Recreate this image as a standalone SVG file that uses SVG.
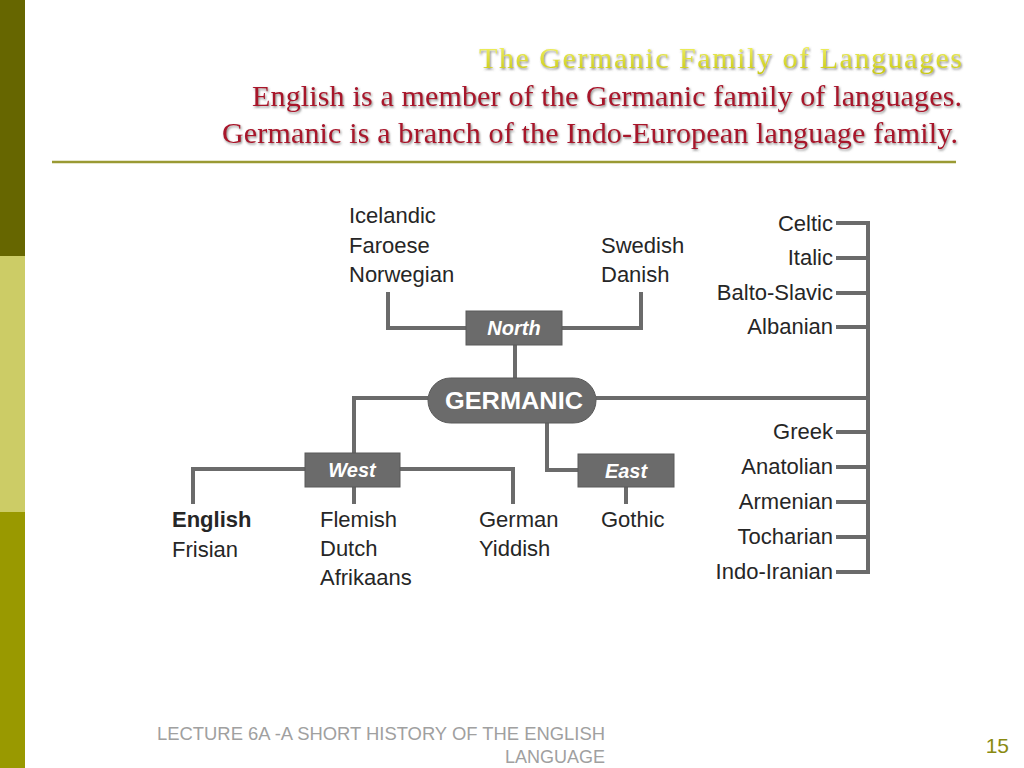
<svg xmlns="http://www.w3.org/2000/svg" width="1024" height="768" viewBox="0 0 1024 768">
<defs>
<style>
.lbl{font-family:"Liberation Sans",Arial,sans-serif;font-size:22px;fill:#262626}
.rt{text-anchor:end}
.box{fill:#6b6b6b;stroke:#5a5a5a;stroke-width:1}
.bt{font-family:"Liberation Sans",Arial,sans-serif;font-size:20px;font-weight:bold;font-style:italic;fill:#fff;text-anchor:middle}
.ln{fill:none;stroke:#6b6b6b;stroke-width:4;stroke-linejoin:miter}
.ser{font-family:"Liberation Serif","Times New Roman",serif;font-size:30px;text-anchor:end}
.red{fill:#a8122a}
.foot{font-family:"Liberation Sans",Arial,sans-serif;font-size:18px;fill:#a0a0a0;text-anchor:end}
</style>
<filter id="sh" x="-5%" y="-20%" width="110%" height="150%">
<feDropShadow dx="1" dy="1.5" stdDeviation="0.8" flood-color="#555" flood-opacity="0.7"/>
</filter>
<linearGradient id="yg" x1="0" y1="0" x2="0" y2="1">
<stop offset="0" stop-color="#f6f670"/>
<stop offset="1" stop-color="#c8c810"/>
</linearGradient>
</defs>
<rect width="1024" height="768" fill="#fff"/>
<g id="sidebar">
<rect x="0" y="0" width="25" height="256" fill="#666600"/>
<rect x="0" y="256" width="25" height="256" fill="#cccc66"/>
<rect x="0" y="512" width="25" height="256" fill="#999900"/>
</g>
<g id="title">
<text class="ser" x="962" y="68" fill="url(#yg)" filter="url(#sh)" textLength="483" lengthAdjust="spacing">The Germanic Family of Languages</text>
<text class="ser red" x="962" y="106" filter="url(#sh)" textLength="710" lengthAdjust="spacing">English is a member of the Germanic family of languages.</text>
<text class="ser red" x="958" y="143" filter="url(#sh)" textLength="736" lengthAdjust="spacing">Germanic is a branch of the Indo-European language family.</text>
<line x1="52" y1="162" x2="956" y2="162" stroke="#9a9a33" stroke-width="2.5"/>
</g>
<g id="connectors">
<polyline class="ln" points="388,292 388,328 466,328"/>
<polyline class="ln" points="562,328 641,328 641,292"/>
<line class="ln" x1="515" y1="345" x2="515" y2="378"/>
<polyline class="ln" points="428,398 354,398 354,453"/>
<line class="ln" x1="596" y1="398" x2="868" y2="398"/>
<polyline class="ln" points="547,423 547,470 578,470"/>
<polyline class="ln" points="305,469 193,469 193,504"/>
<polyline class="ln" points="400,469 513,469 513,504"/>
<line class="ln" x1="354" y1="487" x2="354" y2="504"/>
<line class="ln" x1="626" y1="487" x2="626" y2="504"/>
<line class="ln" x1="868" y1="221" x2="868" y2="574"/>
<line class="ln" x1="836" y1="223" x2="868" y2="223"/>
<line class="ln" x1="836" y1="258" x2="868" y2="258"/>
<line class="ln" x1="836" y1="293" x2="868" y2="293"/>
<line class="ln" x1="836" y1="327" x2="868" y2="327"/>
<line class="ln" x1="836" y1="432" x2="868" y2="432"/>
<line class="ln" x1="836" y1="467" x2="868" y2="467"/>
<line class="ln" x1="836" y1="502" x2="868" y2="502"/>
<line class="ln" x1="836" y1="537" x2="868" y2="537"/>
<line class="ln" x1="836" y1="572" x2="868" y2="572"/>
</g>
<g id="germanic">
<rect class="box" x="428" y="378" width="168" height="45" rx="22.5"/>
<text x="514" y="409" font-family="'Liberation Sans',Arial,sans-serif" font-size="24" font-weight="bold" fill="#fff" text-anchor="middle" textLength="138" lengthAdjust="spacingAndGlyphs">GERMANIC</text>
</g>
<g id="north">
<rect class="box" x="466" y="311" width="96" height="34"/>
<text class="bt" x="514" y="335">North</text>
</g>
<g id="west">
<rect class="box" x="305" y="453" width="95" height="34"/>
<text class="bt" x="352" y="477">West</text>
</g>
<g id="east">
<rect class="box" x="578" y="454" width="96" height="33"/>
<text class="bt" x="626" y="478">East</text>
</g>
<g id="north-west-langs">
<text class="lbl" x="349" y="223">Icelandic</text>
<text class="lbl" x="349" y="253">Faroese</text>
<text class="lbl" x="349" y="282">Norwegian</text>
</g>
<g id="north-east-langs">
<text class="lbl" x="601" y="253">Swedish</text>
<text class="lbl" x="601" y="282">Danish</text>
</g>
<g id="anglo-frisian">
<text class="lbl" x="172" y="527" font-weight="bold">English</text>
<text class="lbl" x="172" y="557">Frisian</text>
</g>
<g id="low-franconian">
<text class="lbl" x="320" y="527">Flemish</text>
<text class="lbl" x="320" y="556">Dutch</text>
<text class="lbl" x="320" y="585">Afrikaans</text>
</g>
<g id="high-german">
<text class="lbl" x="479" y="527">German</text>
<text class="lbl" x="479" y="556">Yiddish</text>
</g>
<g id="gothic">
<text class="lbl" x="601" y="527">Gothic</text>
</g>
<g id="indo-european">
<text class="lbl rt" x="833" y="231">Celtic</text>
<text class="lbl rt" x="833" y="265">Italic</text>
<text class="lbl rt" x="833" y="300">Balto-Slavic</text>
<text class="lbl rt" x="833" y="334">Albanian</text>
<text class="lbl rt" x="833" y="439">Greek</text>
<text class="lbl rt" x="833" y="474">Anatolian</text>
<text class="lbl rt" x="833" y="509">Armenian</text>
<text class="lbl rt" x="833" y="544">Tocharian</text>
<text class="lbl rt" x="833" y="579">Indo-Iranian</text>
</g>
<g id="footer">
<text class="foot" x="605" y="740" textLength="448" lengthAdjust="spacingAndGlyphs">LECTURE 6A -A SHORT HISTORY OF THE ENGLISH</text>
<text class="foot" x="605" y="763" textLength="100" lengthAdjust="spacingAndGlyphs">LANGUAGE</text>
<text x="1009" y="753" font-family="'Liberation Sans',Arial,sans-serif" font-size="21" fill="#8a8a10" text-anchor="end">15</text>
</g>
</svg>
